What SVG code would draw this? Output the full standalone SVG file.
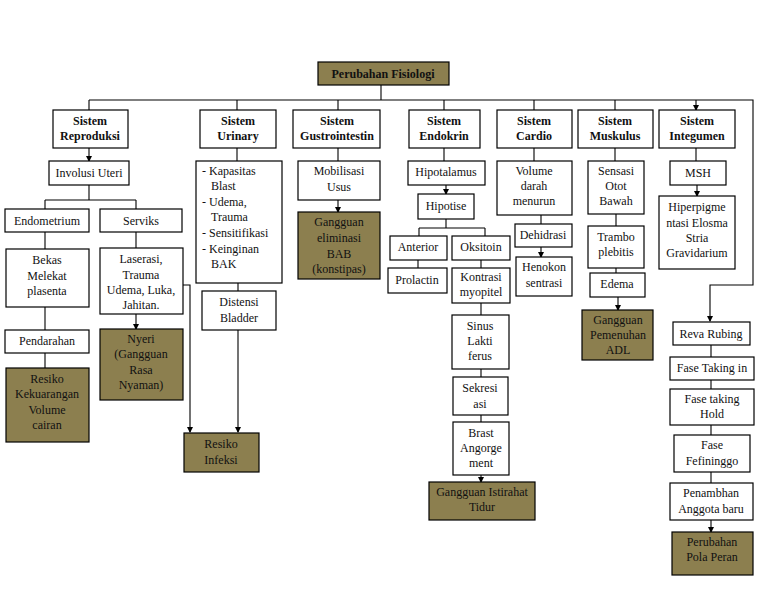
<svg xmlns="http://www.w3.org/2000/svg" width="768" height="594" viewBox="0 0 768 594">
<style>
.b{fill:#fff;stroke:#000;stroke-width:1.2}
.o{fill:#8c7f4f;stroke:#000;stroke-width:1.2}
text{font-family:"Liberation Serif",serif;font-size:12px;text-anchor:middle;fill:#111}
.h{font-weight:bold}
.l{text-anchor:start}
#c path{fill:none;stroke:#000;stroke-width:1.1}
</style>
<defs><marker id="a" markerWidth="6" markerHeight="6" refX="5" refY="3" orient="auto" markerUnits="userSpaceOnUse"><path d="M0,0L6,3L0,6z" fill="#000"/></marker></defs>
<rect width="768" height="594" fill="#fff"/>
<g id="c">
<path d="M381,85V100"/>
<path d="M89,100H753V285H710V321" marker-end="url(#a)"/>
<path d="M89,100V110M237,100V110M338,100V110M444,100V110M534,100V110M615,100V110M696,100V110" marker-end="url(#a)"/>
<path d="M89,148V161" marker-end="url(#a)"/>
<path d="M89,185V200M45,200H136"/>
<path d="M45,200V209M136,200V209M45,232V249M136,232V248M45,307V330M45,353V368M136,314V329" marker-end="url(#a)"/>
<path d="M183,285H190V432" marker-end="url(#a)"/>
<path d="M237,148V161M238,283V291M238,330V432" marker-end="url(#a)"/>
<path d="M338,148V161M338,200V212" marker-end="url(#a)"/>
<path d="M444,148V161M446,185V194" marker-end="url(#a)"/>
<path d="M446,219V228M419,228H485"/>
<path d="M419,228V236M485,228V236M418,260V268M481,260V268M481,303V315M481,369V377M481,415V422M481,475V482" marker-end="url(#a)"/>
<path d="M534,148V161M541,215V224M541,247V257" marker-end="url(#a)"/>
<path d="M615,148V161M616,214V226M616,268V273M618,297V310" marker-end="url(#a)"/>
<path d="M696,148V161M697,185V196" marker-end="url(#a)"/>
<path d="M711,345V357M711,380V389M711,425V435M711,472V483M711,520V532" marker-end="url(#a)"/>
</g>
<g id="n0"><rect class="o" x="318" y="62" width="131" height="23"/><text class="h" x="383" y="78">Perubahan Fisiologi</text></g>
<g id="s1"><rect class="b" x="53" y="110" width="75" height="38"/><text class="h" x="90" y="125">Sistem</text><text class="h" x="90" y="140">Reproduksi</text></g>
<g id="s2"><rect class="b" x="200" y="110" width="76" height="38"/><text class="h" x="238" y="125">Sistem</text><text class="h" x="238" y="140">Urinary</text></g>
<g id="s3"><rect class="b" x="293" y="110" width="87" height="38"/><text class="h" x="337" y="125">Sistem</text><text class="h" x="337" y="140">Gustrointestin</text></g>
<g id="s4"><rect class="b" x="409" y="110" width="71" height="38"/><text class="h" x="444" y="125">Sistem</text><text class="h" x="444" y="140">Endokrin</text></g>
<g id="s5"><rect class="b" x="497" y="110" width="75" height="38"/><text class="h" x="534" y="125">Sistem</text><text class="h" x="534" y="140">Cardio</text></g>
<g id="s6"><rect class="b" x="578" y="110" width="75" height="38"/><text class="h" x="615" y="125">Sistem</text><text class="h" x="615" y="140">Muskulus</text></g>
<g id="s7"><rect class="b" x="659" y="110" width="76" height="38"/><text class="h" x="697" y="125">Sistem</text><text class="h" x="697" y="140">Integumen</text></g>
<g id="r1"><rect class="b" x="49" y="161" width="80" height="24"/><text x="89" y="177">Involusi Uteri</text></g>
<g id="r2"><rect class="b" x="5" y="209" width="84" height="23"/><text x="47" y="225">Endometrium</text></g>
<g id="r3"><rect class="b" x="100" y="209" width="82" height="23"/><text x="141" y="225">Serviks</text></g>
<g id="r4"><rect class="b" x="6" y="249" width="83" height="58"/><text x="47" y="264">Bekas</text><text x="47" y="280">Melekat</text><text x="47" y="295">plasenta</text></g>
<g id="r5"><rect class="b" x="100" y="248" width="83" height="66"/><text x="141" y="263">Laserasi,</text><text x="141" y="279">Trauma</text><text x="141" y="294">Udema, Luka,</text><text x="141" y="309">Jahitan.</text></g>
<g id="r6"><rect class="b" x="5" y="330" width="84" height="23"/><text x="47" y="345">Pendarahan</text></g>
<g id="r7"><rect class="o" x="6" y="368" width="83" height="74"/><text x="47" y="383">Resiko</text><text x="47" y="398">Kekuarangan</text><text x="47" y="414">Volume</text><text x="47" y="429">cairan</text></g>
<g id="r8"><rect class="o" x="100" y="329" width="83" height="71"/><text x="141" y="343">Nyeri</text><text x="141" y="358">(Gangguan</text><text x="141" y="374">Rasa</text><text x="141" y="389">Nyaman)</text></g>
<g id="u1"><rect class="b" x="196" y="161" width="86" height="122"/><text class="l" x="202" y="175">-  Kapasitas</text><text class="l" x="211" y="190">Blast</text><text class="l" x="202" y="206">-  Udema,</text><text class="l" x="211" y="221">Trauma</text><text class="l" x="202" y="237">-  Sensitifikasi</text><text class="l" x="202" y="253">-  Keinginan</text><text class="l" x="211" y="268">BAK</text></g>
<g id="u2"><rect class="b" x="202" y="291" width="74" height="39"/><text x="239" y="306">Distensi</text><text x="239" y="322">Bladder</text></g>
<g id="u3"><rect class="o" x="184" y="433" width="75" height="39"/><text x="221" y="448">Resiko</text><text x="221" y="464">Infeksi</text></g>
<g id="g1"><rect class="b" x="298" y="161" width="82" height="39"/><text x="339" y="175">Mobilisasi</text><text x="339" y="191">Usus</text></g>
<g id="g2"><rect class="o" x="298" y="212" width="82" height="67"/><text x="339" y="226">Gangguan</text><text x="339" y="242">eliminasi</text><text x="339" y="258">BAB</text><text x="339" y="273">(konstipas)</text></g>
<g id="e1"><rect class="b" x="408" y="161" width="77" height="24"/><text x="446" y="176">Hipotalamus</text></g>
<g id="e2"><rect class="b" x="418" y="194" width="56" height="25"/><text x="446" y="210">Hipotise</text></g>
<g id="e3"><rect class="b" x="390" y="236" width="57" height="24"/><text x="418" y="251">Anterior</text></g>
<g id="e4"><rect class="b" x="452" y="236" width="58" height="24"/><text x="481" y="251">Oksitoin</text></g>
<g id="e5"><rect class="b" x="388" y="268" width="59" height="25"/><text x="417" y="284">Prolactin</text></g>
<g id="e6"><rect class="b" x="452" y="268" width="58" height="35"/><text x="481" y="281">Kontrasi</text><text x="481" y="296">myopitel</text></g>
<g id="e7"><rect class="b" x="452" y="315" width="57" height="54"/><text x="480" y="330">Sinus</text><text x="480" y="345">Lakti</text><text x="480" y="360">ferus</text></g>
<g id="e8"><rect class="b" x="453" y="377" width="55" height="38"/><text x="480" y="392">Sekresi</text><text x="480" y="408">asi</text></g>
<g id="e9"><rect class="b" x="453" y="422" width="56" height="53"/><text x="481" y="437">Brast</text><text x="481" y="452">Angorge</text><text x="481" y="467">ment</text></g>
<g id="e10"><rect class="o" x="429" y="482" width="106" height="38"/><text x="482" y="496">Gangguan Istirahat</text><text x="482" y="511">Tidur</text></g>
<g id="c1"><rect class="b" x="497" y="161" width="75" height="54"/><text x="534" y="175">Volume</text><text x="534" y="190">darah</text><text x="534" y="205">menurun</text></g>
<g id="c2"><rect class="b" x="515" y="224" width="57" height="23"/><text x="543" y="239">Dehidrasi</text></g>
<g id="c3"><rect class="b" x="516" y="257" width="56" height="39"/><text x="544" y="271">Henokon</text><text x="544" y="287">sentrasi</text></g>
<g id="m1"><rect class="b" x="588" y="161" width="56" height="53"/><text x="616" y="175">Sensasi</text><text x="616" y="190">Otot</text><text x="616" y="205">Bawah</text></g>
<g id="m2"><rect class="b" x="588" y="226" width="56" height="42"/><text x="616" y="241">Trambo</text><text x="616" y="256">plebitis</text></g>
<g id="m3"><rect class="b" x="590" y="273" width="55" height="24"/><text x="617" y="288">Edema</text></g>
<g id="m4"><rect class="o" x="582" y="310" width="71" height="50"/><text x="618" y="324">Gangguan</text><text x="618" y="339">Pemenuhan</text><text x="618" y="354">ADL</text></g>
<g id="i1"><rect class="b" x="670" y="161" width="56" height="24"/><text x="698" y="177">MSH</text></g>
<g id="i2"><rect class="b" x="659" y="196" width="76" height="73"/><text x="697" y="211">Hiperpigme</text><text x="697" y="227">ntasi Elosma</text><text x="697" y="242">Stria</text><text x="697" y="257">Gravidarium</text></g>
<g id="i3"><rect class="b" x="673" y="322" width="77" height="23"/><text x="711" y="338">Reva Rubing</text></g>
<g id="i4"><rect class="b" x="670" y="357" width="84" height="23"/><text x="712" y="372">Fase Taking in</text></g>
<g id="i5"><rect class="b" x="670" y="389" width="84" height="36"/><text x="712" y="403">Fase taking</text><text x="712" y="418">Hold</text></g>
<g id="i6"><rect class="b" x="674" y="435" width="76" height="37"/><text x="712" y="449">Fase</text><text x="712" y="465">Fefininggo</text></g>
<g id="i7"><rect class="b" x="670" y="483" width="83" height="37"/><text x="711" y="497">Penambhan</text><text x="711" y="513">Anggota baru</text></g>
<g id="i8"><rect class="o" x="672" y="532" width="81" height="43"/><text x="712" y="546">Perubahan</text><text x="712" y="561">Pola Peran</text></g>
</svg>
